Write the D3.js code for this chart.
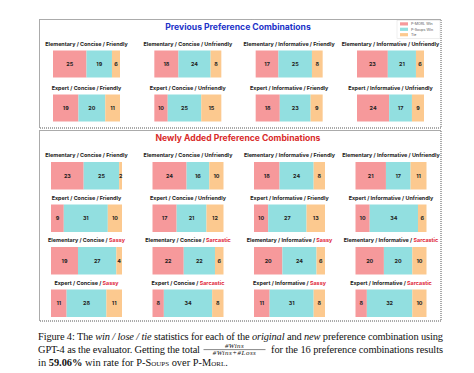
<!DOCTYPE html>
<html>
<head>
<meta charset="utf-8">
<script src="https://cdn.jsdelivr.net/npm/d3@7"></script>
<style>
  body{margin:0;background:#fff;}
  svg{display:block;}
</style>
</head>
<body>
<div id="chart"></div>
<script>
// series names
var seriesNames=["P-MORL Win","P-Soups Win","Tie"]
var seriesColors=["#f6999b","#92dfe0","#fcc98f"]

// previous combinations (2 rows x 4 cols)
var prevTitles=[
  ["Elementary / Concise / ","Friendly"],["Elementary / Concise / ","Unfriendly"],
  ["Elementary / Informative / ","Friendly"],["Elementary / Informative / ","Unfriendly"],
  ["Expert / Concise / ","Friendly"],["Expert / Concise / ","Unfriendly"],
  ["Expert / Informative / ","Friendly"],["Expert / Informative / ","Unfriendly"]
]
var prevValues=[
  [25,19,6],[18,24,8],[17,25,8],[23,21,6],
  [19,20,11],[10,25,15],[18,23,9],[24,17,9]
]

// newly added combinations (4 rows x 4 cols)
var newTitles=[
  ["Elementary / Concise / ","Friendly"],["Elementary / Concise / ","Unfriendly"],
  ["Elementary / Informative / ","Friendly"],["Elementary / Informative / ","Unfriendly"],
  ["Expert / Concise / ","Friendly"],["Expert / Concise / ","Unfriendly"],
  ["Expert / Informative / ","Friendly"],["Expert / Informative / ","Unfriendly"],
  ["Elementary / Concise / ","Sassy"],["Elementary / Concise / ","Sarcastic"],
  ["Elementary / Informative / ","Sassy"],["Elementary / Informative / ","Sarcastic"],
  ["Expert / Concise / ","Sassy"],["Expert / Concise / ","Sarcastic"],
  ["Expert / Informative / ","Sassy"],["Expert / Informative / ","Sarcastic"]
]
var newValues=[
  [23,25,2],[24,16,10],[18,24,8],[21,17,11],
  [9,31,10],[17,21,12],[10,27,13],[10,34,6],
  [19,27,4],[22,22,6],[20,24,6],[20,20,10],
  [11,28,11],[8,34,8],[11,31,8],[8,32,10]
]
var redWords=["Sassy","Sarcastic"]

var width=474, height=373
var svg=d3.select("#chart").append("svg")
  .attr("width",width)
  .attr("height",height)

var sans="Inter, 'DejaVu Sans', sans-serif"
var serif="'Liberation Serif', 'DejaVu Serif', serif"

// dotted boxes
var drawBox=function(x,y,w,h){
  svg.append("rect")
    .attr("x",x).attr("y",y).attr("width",w).attr("height",h)
    .attr("fill","none")
    .attr("stroke","#444")
    .attr("stroke-width",0.9)
    .attr("stroke-dasharray","1,1")
}
drawBox(39.5,19.5,401.5,108.5)
drawBox(39.5,130.5,401.5,190.5)

svg.append("text")
  .attr("x",238).attr("y",29.5)
  .attr("text-anchor","middle")
  .style("font-family",sans).style("font-weight",700).style("font-size","8.6px")
  .style("fill","#2233c8")
  .text("Previous Preference Combinations")

svg.append("text")
  .attr("x",238).attr("y",141)
  .attr("text-anchor","middle")
  .style("font-family",sans).style("font-weight",700).style("font-size","8.6px")
  .style("fill","#d92b2b")
  .text("Newly Added Preference Combinations")

// legend
var legend=svg.append("g").attr("id","legend")
legend.append("rect")
  .attr("x",397).attr("y",20.5).attr("width",43).attr("height",18)
  .attr("fill","#fff").attr("stroke","#ddd").attr("stroke-width",0.5)
legend.selectAll("rect.sw")
  .data(seriesNames)
  .enter().append("rect")
  .attr("class","sw")
  .attr("x",400)
  .attr("y",function(d,i){return 22.3+i*5.4})
  .attr("width",8).attr("height",3.2)
  .attr("fill",function(d,i){return seriesColors[i]})
legend.selectAll("text")
  .data(seriesNames)
  .enter().append("text")
  .attr("x",411)
  .attr("y",function(d,i){return 25.2+i*5.4})
  .style("font-family",sans).style("font-size","3.6px").style("fill","#555")
  .text(function(d){return d})

// one grid of small stacked bars
var drawGrid=function(titles,values,colX,rowY,barW,barH){
  var g=svg.append("g")
  titles.forEach(function(t,i){
    var col=i%4, row=Math.floor(i/4)
    var x0=colX(col), y0=rowY(row)
    var vals=values[i]
    var total=d3.sum(vals)
    var xs=d3.scaleLinear().domain([0,total]).range([0,barW])
    var stack=[]
    var acc=0
    vals.forEach(function(v,k){stack.push({v:v,start:acc,k:k});acc+=v})

    var title=g.append("text")
      .attr("x",x0+barW/2).attr("y",y0-5)
      .attr("text-anchor","middle")
      .style("font-family",sans).style("font-weight",700).style("font-size","5.4px")
      .style("fill","#222")
    title.append("tspan").text(t[0])
    title.append("tspan")
      .style("fill",redWords.indexOf(t[1])>=0?"#e0263a":"#222")
      .text(t[1])

    g.selectAll(null)
      .data(stack)
      .enter().append("rect")
      .attr("x",function(d){return x0+xs(d.start)})
      .attr("y",y0)
      .attr("width",function(d){return xs(d.v)})
      .attr("height",barH)
      .attr("fill",function(d){return seriesColors[d.k]})

    g.selectAll(null)
      .data(stack)
      .enter().append("text")
      .attr("x",function(d){return x0+xs(d.start+d.v/2)})
      .attr("y",y0+barH/2+2)
      .attr("text-anchor","middle")
      .style("font-family",sans).style("font-weight",700).style("font-size","5.4px")
      .style("fill","#222")
      .text(function(d){return d.v})
  })
}

var prevCol=d3.scaleLinear().domain([0,3]).range([53,357])
var prevRow=d3.scaleLinear().domain([0,1]).range([50.5,94.5])
drawGrid(prevTitles,prevValues,prevCol,prevRow,67,27)

var newCol=d3.scaleLinear().domain([0,3]).range([51,355.5])
var newRow=d3.scaleLinear().domain([0,3]).range([162,289.5])
drawGrid(newTitles,newValues,newCol,newRow,71,27.5)

// caption
var cap=svg.append("g").style("font-family",serif).style("font-size","10.4px").style("fill","#111")
var l1=cap.append("text").attr("x",38).attr("y",339.5)
  .attr("textLength",405).attr("lengthAdjust","spacing")
l1.append("tspan").text("Figure 4: The ")
l1.append("tspan").style("font-style","italic").text("win / lose / tie")
l1.append("tspan").text(" statistics for each of the ")
l1.append("tspan").style("font-style","italic").text("original")
l1.append("tspan").text(" and ")
l1.append("tspan").style("font-style","italic").text("new")
l1.append("tspan").text(" preference combination using")

cap.append("text").attr("x",38).attr("y",352.5)
  .attr("textLength",162).attr("lengthAdjust","spacing")
  .text("GPT-4 as the evaluator. Getting the total")
// fraction
cap.append("text").attr("x",234.5).attr("y",347.6).attr("text-anchor","middle")
  .style("font-style","italic").style("font-size","7px").style("letter-spacing","0.4px").text("#Wins")
cap.append("line").attr("x1",203.5).attr("x2",265.5).attr("y1",349.6).attr("y2",349.6)
  .attr("stroke","#111").attr("stroke-width",0.5)
cap.append("text").attr("x",234.5).attr("y",355.4).attr("text-anchor","middle")
  .style("font-style","italic").style("font-size","7px").style("letter-spacing","0.5px").text("#Wins+#Loss")
cap.append("text").attr("x",443).attr("y",352.5).attr("text-anchor","end")
  .attr("textLength",172).attr("lengthAdjust","spacing")
  .text("for the 16 preference combinations results")

var l3=cap.append("text").attr("x",38).attr("y",366)
l3.append("tspan").text("in ")
l3.append("tspan").style("font-weight",700).text("59.06%")
l3.append("tspan").text(" win rate for P-")
l3.append("tspan").style("font-variant","small-caps").text("Soups")
l3.append("tspan").text(" over P-")
l3.append("tspan").style("font-variant","small-caps").text("Morl")
l3.append("tspan").text(".")
</script>
</body>
</html>
